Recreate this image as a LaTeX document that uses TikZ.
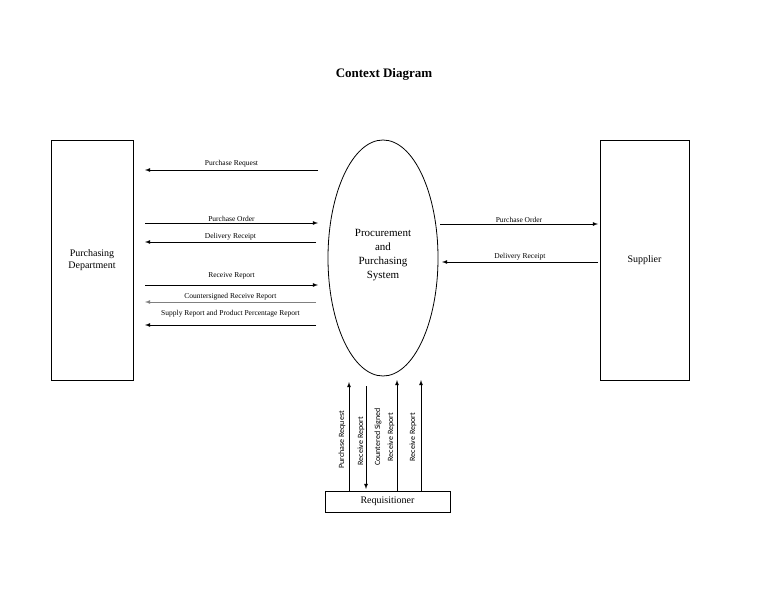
\documentclass[tikz,border=0pt]{standalone}
\usepackage{fontspec}
\usetikzlibrary{shapes.geometric}
\setmainfont{Liberation Serif}
\newfontfamily\carl{Carlito}
\begin{document}
\begin{tikzpicture}[x=1pt,y=-1pt,
  box/.style={draw,line width=0.8pt,inner sep=0pt},
  flow/.style={-latex,line width=0.8pt},
  lbl/.style={font=\fontsize{7.5}{8}\selectfont,inner sep=1pt},
  vl/.style={font=\carl\fontsize{8}{9}\selectfont,rotate=90,inner sep=0pt}]
\useasboundingbox (0,0) rectangle (768,594);
\node[font=\bfseries\fontsize{13}{15}\selectfont] (title) at (384,74) {Context Diagram};
\node[box,minimum width=82pt,minimum height=240pt,align=center,font=\fontsize{10}{12}\selectfont] (pd) at (92,260) {Purchasing\\Department};
\node[box,minimum width=89pt,minimum height=240pt,font=\fontsize{10}{12}\selectfont] (sup) at (644.5,260) {Supplier};
\node[draw,ellipse,line width=0.8pt,minimum width=110pt,minimum height=236pt,inner sep=0pt] (ps) at (383,258) {};
\node[align=center,font=\fontsize{11}{14}\selectfont] (pst) at (383,255) {Procurement\\and\\Purchasing\\System};
\node[box,minimum width=125pt,minimum height=21pt,font=\fontsize{10}{12}\selectfont] (req) at (387.5,501.5) {Requisitioner};
% left flows
\coordinate (l1) at (145,170); \coordinate (r1) at (318,170);
\draw[flow] (r1) -- node[lbl,above=2pt]{Purchase Request} (l1);
\coordinate (l2) at (145,223); \coordinate (r2) at (318,223);
\draw[flow] (l2) -- node[lbl,above]{Purchase Order} (r2);
\coordinate (l3) at (145,242); \coordinate (r3) at (316,242);
\draw[flow] (r3) -- node[lbl,above]{Delivery Receipt} (l3);
\coordinate (l4) at (145,285); \coordinate (r4) at (318,285);
\draw[flow] (l4) -- node[lbl,above=5pt]{Receive Report} (r4);
\coordinate (l5) at (145,302); \coordinate (r5) at (316,302);
\draw[flow,draw=gray] (r5) -- node[lbl,above]{Countersigned Receive Report} (l5);
\coordinate (l6) at (145,325); \coordinate (r6) at (316,325);
\draw[flow] (r6) -- node[lbl,above=6pt]{Supply Report and Product Percentage Report} (l6);
% right flows
\coordinate (a1) at (440,224); \coordinate (b1) at (598,224);
\draw[flow] (a1) -- node[lbl,above]{Purchase Order} (b1);
\coordinate (a2) at (442,262); \coordinate (b2) at (598,262);
\draw[flow] (b2) -- node[lbl,above]{Delivery Receipt} (a2);
% bottom flows
\coordinate (v1a) at (349,491); \coordinate (v1b) at (349,382);
\draw[flow] (v1a) -- (v1b);
\coordinate (v2a) at (366,386); \coordinate (v2b) at (366,489);
\draw[flow] (v2a) -- (v2b);
\coordinate (v3a) at (397,491); \coordinate (v3b) at (397,380);
\draw[flow] (v3a) -- (v3b);
\coordinate (v4a) at (421,491); \coordinate (v4b) at (421,380);
\draw[flow] (v4a) -- (v4b);
\node[vl] (t1) at (342,440) {Purchase Request};
\node[vl] (t2) at (361,441) {Receive Report};
\node[vl] (t3) at (378,437) {Countered Signed};
\node[vl] (t4) at (391,437) {Receive Report};
\node[vl] (t5) at (413,437) {Receive  Report};
\end{tikzpicture}
\end{document}
